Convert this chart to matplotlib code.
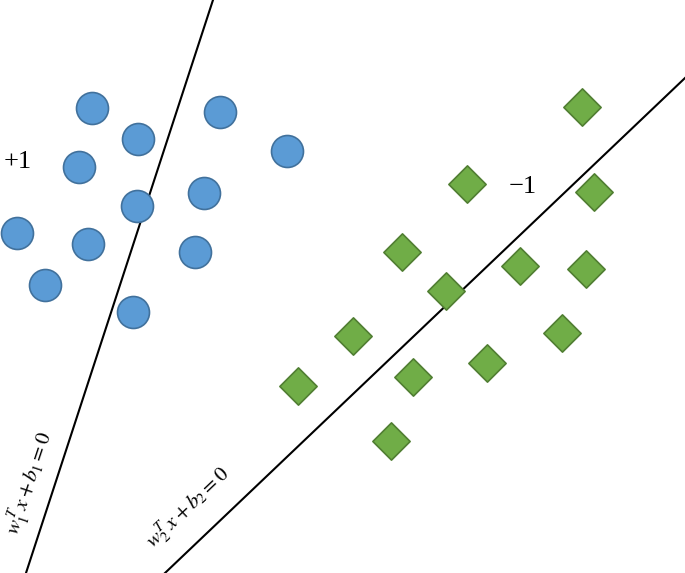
import matplotlib
matplotlib.use("Agg")
import matplotlib.pyplot as plt
import numpy as np

plt.rcParams['mathtext.fontset'] = 'stix'
plt.rcParams['font.family'] = ['Liberation Serif', 'DejaVu Serif']

# class +1 points (pixel-like coordinates, y downward)
pos_x = [92, 138, 79, 220, 287, 137, 204, 17, 88, 195, 45, 133]
pos_y = [108, 139, 167, 112, 151, 206, 193, 233, 244, 252, 285, 312]

# class -1 points
neg_x = [582, 467, 594, 402, 520, 586, 446, 353, 562, 298, 413, 487, 391]
neg_y = [107, 184, 192, 252, 266, 269, 291, 336, 333, 386, 377, 363, 441]

# hyperplanes as two points each
line1_x = [213, 26]
line1_y = [0, 573]
line2_x = [685, 165]
line2_y = [78, 573]

W, H = 685, 573
fig = plt.figure(figsize=(W / 100, H / 100), dpi=100)
ax = fig.add_axes([0, 0, 1, 1])
ax.set_xlim(0, W)
ax.set_ylim(H, 0)
ax.axis('off')

ax.plot(line1_x, line1_y, color='black', lw=1.5, zorder=1)
ax.plot(line2_x, line2_y, color='black', lw=1.5, zorder=1)

ax.scatter(pos_x, pos_y, s=530, marker='o', facecolor='#5B9BD5',
           edgecolor='#41719C', linewidths=1.2, zorder=3)
ax.scatter(neg_x, neg_y, s=360, marker='D', facecolor='#70AD47',
           edgecolor='#507E32', linewidths=1.2, zorder=3)

ax.text(18, 162, '+1', fontsize=19, ha='center', va='center')
ax.text(523, 187, '\u22121', fontsize=19, ha='center', va='center')

ax.text(31, 484, r'$w_1^T\, x + b_1 = 0$', fontsize=15, rotation=71.5,
        ha='center', va='center', rotation_mode='anchor')
ax.text(188, 508, r'$w_2^T\, x + b_2 = 0$', fontsize=15, rotation=43.6,
        ha='center', va='center', rotation_mode='anchor')

fig.savefig('out.png', dpi=100)
